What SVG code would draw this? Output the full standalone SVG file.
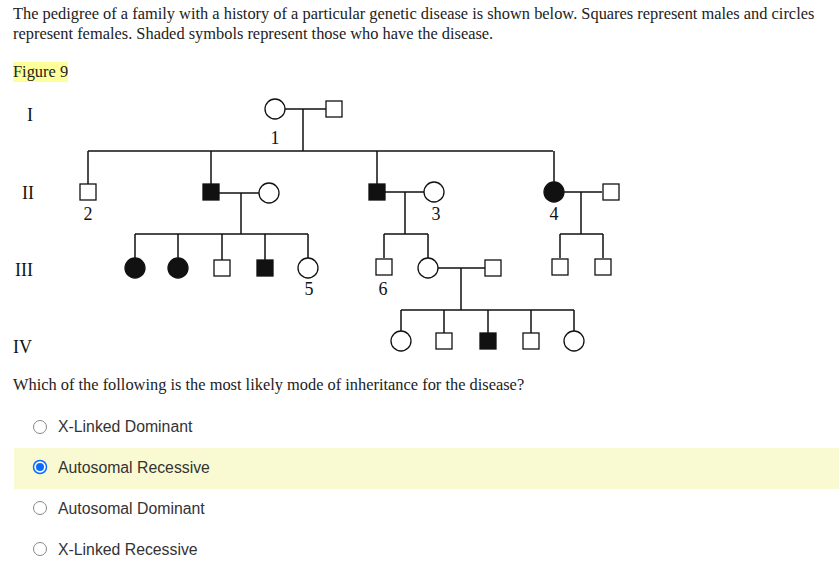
<svg xmlns="http://www.w3.org/2000/svg" width="839" height="578" viewBox="0 0 839 578">
<style>
.t{font-family:"Liberation Serif",serif;font-size:16.4px;fill:#222}
.n{font-family:"Liberation Serif",serif;font-size:18px;fill:#111;text-anchor:middle}
.g{font-family:"Liberation Serif",serif;font-size:18px;fill:#111}
.o{font-family:"Liberation Sans",sans-serif;font-size:15.8px;fill:#333}
.e{fill:#fff;stroke:#111;stroke-width:1.3}
.f{fill:#111;stroke:#111;stroke-width:1.3}
.l{stroke:#111;stroke-width:1.5;fill:none}
.r{fill:#fff;stroke:#888;stroke-width:1}
</style>
<rect width="839" height="578" fill="#fff"/>
<text class="t" x="13" y="19">The pedigree of a family with a history of a particular genetic disease is shown below. Squares represent males and circles</text>
<text class="t" x="13" y="39">represent females. Shaded symbols represent those who have the disease.</text>
<rect x="13" y="62" width="55" height="20" fill="#ffff99"/>
<text class="t" x="13" y="77">Figure 9</text>
<text class="g" x="27" y="121">I</text>
<text class="g" x="22" y="199">II</text>
<text class="g" x="15" y="276">III</text>
<text class="g" x="13" y="353">IV</text>
<g id="connectors" class="l">
<path d="M285 109H326M303 109V151M88 151H553M88 151V184M211 151V184M377 151V184M554 151V182"/>
<path d="M219 193H259M241 193V234M135 234H308M135 234V258M178 234V258M222 234V260M265 234V260M308 234V258"/>
<path d="M385 192H424M405 192V234M384 234H428M384 234V258M428 234V258"/>
<path d="M438 268H485M461 268V310M401 310H574M401 310V331M444 310V333M488 310V333M531 310V333M574 310V331"/>
<path d="M564 192H602M581 192V234M560 234H603M560 234V258M603 234V258"/>
</g>
<g id="I-1"><circle class="e" cx="275" cy="109" r="10"/><text class="n" x="275" y="144">1</text></g>
<g id="I-2"><rect class="e" x="326" y="101" width="16" height="16"/></g>
<g id="II-2"><rect class="e" x="80" y="184" width="16" height="16"/><text class="n" x="88" y="220">2</text></g>
<g id="II-a"><rect class="f" x="203" y="184" width="16" height="16"/></g>
<g id="II-a-w"><circle class="e" cx="269" cy="193" r="10"/></g>
<g id="II-b"><rect class="f" x="369" y="184" width="16" height="16"/></g>
<g id="II-3"><circle class="e" cx="434" cy="192" r="10"/><text class="n" x="436" y="220">3</text></g>
<g id="II-4"><circle class="f" cx="554" cy="192" r="10"/><text class="n" x="554" y="220">4</text></g>
<g id="II-4-h"><rect class="e" x="603" y="184" width="16" height="16"/></g>
<g id="III-a1"><circle class="f" cx="135" cy="268" r="10"/></g>
<g id="III-a2"><circle class="f" cx="178" cy="268" r="10"/></g>
<g id="III-a3"><rect class="e" x="214" y="260" width="16" height="16"/></g>
<g id="III-a4"><rect class="f" x="257" y="260" width="16" height="16"/></g>
<g id="III-5"><circle class="e" cx="308" cy="268" r="10"/><text class="n" x="309" y="295">5</text></g>
<g id="III-6"><rect class="e" x="376" y="259" width="16" height="16"/><text class="n" x="383" y="295">6</text></g>
<g id="III-b2"><circle class="e" cx="428" cy="268" r="10"/></g>
<g id="III-b2-h"><rect class="e" x="485" y="260" width="16" height="16"/></g>
<g id="III-c1"><rect class="e" x="552" y="259" width="16" height="16"/></g>
<g id="III-c2"><rect class="e" x="595" y="259" width="16" height="16"/></g>
<g id="IV-1"><circle class="e" cx="401" cy="341" r="10"/></g>
<g id="IV-2"><rect class="e" x="436" y="333" width="16" height="16"/></g>
<g id="IV-3"><rect class="f" x="480" y="333" width="16" height="16"/></g>
<g id="IV-4"><rect class="e" x="523" y="333" width="16" height="16"/></g>
<g id="IV-5"><circle class="e" cx="574" cy="341" r="10"/></g>
<text class="t" x="13" y="390">Which of the following is the most likely mode of inheritance for the disease?</text>
<rect x="14" y="448" width="825" height="41" fill="#fafad2"/>
<circle class="r" cx="40" cy="427" r="6.5"/>
<text class="o" x="58" y="432">X-Linked Dominant</text>
<circle cx="40" cy="467" r="6.5" fill="#fff" stroke="#0a6cff" stroke-width="1.5"/>
<circle cx="40" cy="467" r="4" fill="#0a6cff"/>
<text class="o" x="58" y="473">Autosomal Recessive</text>
<circle class="r" cx="40" cy="508" r="6.5"/>
<text class="o" x="58" y="514">Autosomal Dominant</text>
<circle class="r" cx="40" cy="549" r="6.5"/>
<text class="o" x="58" y="555">X-Linked Recessive</text>
</svg>
